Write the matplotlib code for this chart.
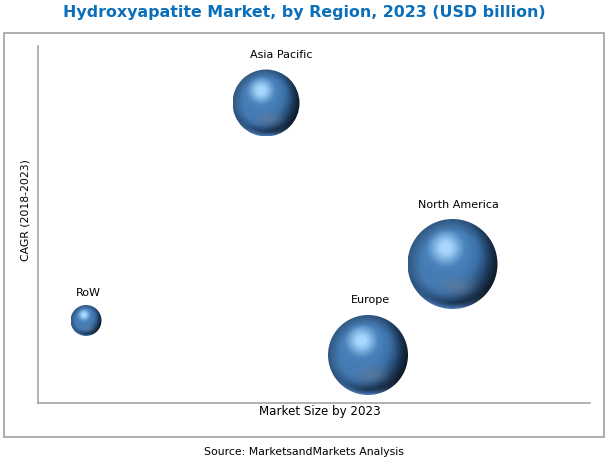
import numpy as np
import matplotlib
matplotlib.use("Agg")
import matplotlib.pyplot as plt
from matplotlib.colors import LinearSegmentedColormap
from matplotlib.patches import Circle, Rectangle

# values, the axes have no scale so units are just pixels
regions = ["Asia Pacific", "North America", "Europe", "RoW"]
market_size = [228, 414.5, 330, 48]
cagr = [300, 139, 48, 82.5]
diameters = [67, 90, 80, 31]

W, H = 611, 463
AX_LEFT, AX_RIGHT, AX_TOP, AX_BOTTOM = 38, 590, 46, 403

# label centres relative to the bubble centre, in pixels
label_dx = [15, 6, 2, 2]
label_dy = [48, 59, 55, 27.5]

shade = LinearSegmentedColormap.from_list(
    "sphere", ["#0e1b2a", "#1f3d60", "#3a6ea6", "#4a82bc", "#a8d8ff"])


def sphere_rgb(n=300):
    # simple shading: highlight upper left, dark rim, glow near the bottom
    u, v = np.meshgrid(np.linspace(-1, 1, n), np.linspace(-1, 1, n))
    r = np.sqrt(u**2 + v**2)
    spot = np.exp(-((u + 0.16)**2 + (v + 0.36)**2) / 0.14)
    rim = np.clip((np.sqrt((u + 0.38)**2 + (v + 0.28)**2) - 0.72) / 0.78, 0, 1)
    level = 0.66 - 0.66 * rim**1.1 + 0.36 * spot
    rgb = shade(np.clip(level, 0, 1))[..., :3]
    # left side falls off gently
    left = np.clip((r - 0.7) / 0.3, 0, 1)[..., None] * 0.28
    rgb = rgb * (1 - left)
    # grey glow low on the ball
    glow = np.exp(-((u - 0.1)**2 / 0.12 + (v - 0.5)**2 / 0.035))[..., None]
    rgb = rgb + (np.array([0.40, 0.49, 0.60]) - rgb) * 0.6 * glow
    # light blue reflection along the bottom edge
    edge = (np.clip((r - 0.86) / 0.12, 0, 1) * np.clip(v * 1.6 - 0.8, 0, 1) * np.clip(1.2 - 1.5 * u, 0, 1))[..., None]
    rgb = rgb + (np.array([0.33, 0.55, 0.82]) - rgb) * np.clip(edge, 0, 1)
    return np.clip(rgb, 0, 1)


fig = plt.figure(figsize=(W / 100, H / 100), dpi=100)
fig.patch.set_facecolor("white")

# outer frame
fig.add_artist(Rectangle((3.5 / W, 1 - 436.5 / H), 601 / W, 404 / H,
                         transform=fig.transFigure, fill=False, edgecolor="#a0a0a0", linewidth=1.2))

ax = fig.add_axes([AX_LEFT / W, 1 - AX_BOTTOM / H, (AX_RIGHT - AX_LEFT) / W, (AX_BOTTOM - AX_TOP) / H])
ax.set_xticks([])
ax.set_yticks([])
ax.patch.set_alpha(0)
for side in ["top", "right"]:
    ax.spines[side].set_visible(False)
for side in ["left", "bottom"]:
    ax.spines[side].set_color("#a6a6a6")
    ax.spines[side].set_linewidth(1.2)

texture = sphere_rgb()
for name, x, y, d, dx, dy in zip(regions, market_size, cagr, diameters, label_dx, label_dy):
    im = ax.imshow(texture, extent=(x - d / 2, x + d / 2, y - d / 2, y + d / 2),
                   origin="upper", aspect="auto", zorder=3, interpolation="bilinear")
    im.set_clip_path(Circle((x, y), d / 2, transform=ax.transData))
    ax.text(x + dx, y + dy, name, ha="center", va="center", fontsize=8, color="black", zorder=4)

ax.set_xlim(0, AX_RIGHT - AX_LEFT)
ax.set_ylim(0, AX_BOTTOM - AX_TOP)

fig.text(320 / W, 1 - 412 / H, "Market Size by 2023", ha="center", va="center", fontsize=8.6)
fig.text(26 / W, 1 - 210 / H, "CAGR (2018-2023)", rotation=90, ha="center", va="center", fontsize=7.8)
fig.text(304 / W, 1 - 452 / H, "Source: MarketsandMarkets Analysis", ha="center", va="center", fontsize=7.8)
fig.text(304 / W, 1 - 13 / H, "Hydroxyapatite Market, by Region, 2023 (USD billion)",
         ha="center", va="center", fontsize=11.45, fontweight="bold", color="#0b6fba")

fig.savefig("out.png", dpi=100)
